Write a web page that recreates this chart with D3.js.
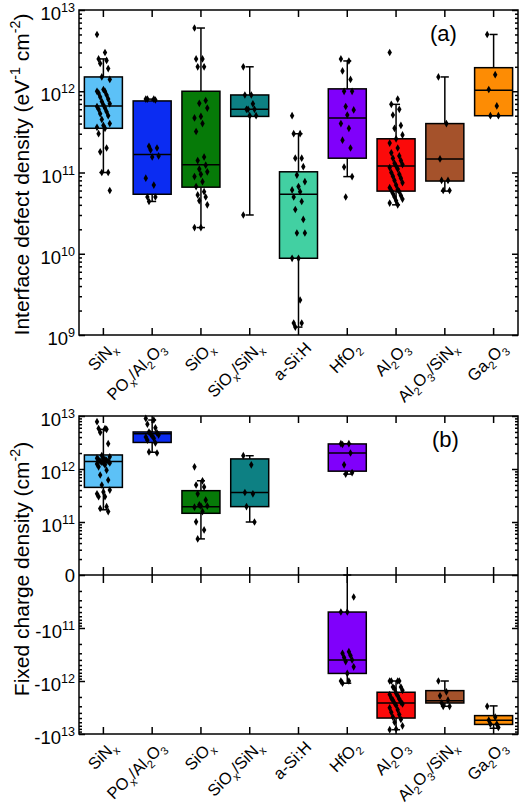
<!DOCTYPE html>
<html><head><meta charset="utf-8">
<script src="https://cdn.jsdelivr.net/npm/d3@7"></script>
<style>
body{margin:0;background:#fff;}
text{font-family:"Liberation Sans",Arial,sans-serif;fill:#000;}
</style>
</head><body>
<svg id="c" width="520" height="806"></svg>
<script>
// ---------- DATA ----------
const categories = ["SiNx","POx/Al2O3","SiOx","SiOx/SiNx","a-Si:H","HfO2","Al2O3","Al2O3/SiNx","Ga2O3"];
const catLabels  = ["SiN_x","PO_x/Al_2O_3","SiO_x","SiO_x/SiN_x","a-Si:H","HfO_2","Al_2O_3","Al_2O_3/SiN_x","Ga_2O_3"];
const colors     = ["#5cc1f7","#0b2cf2","#067a08","#0d8083","#42d0a2","#8000fb","#fb0a0a","#a5522b","#fd8c04"];

// Panel (a): interface defect density box statistics
const loA  = [1e11, 4.4e10, 2.1e10, 3e10, 1.25e9, 8.9e10, 4e10, 5.9e10, 5e11];
const q1A  = [3.5e11, 5.4e10, 6.6e10, 4.9e11, 8.8e9, 1.5e11, 5.9e10, 7.85e10, 5e11];
const medA = [6.6e11, 1.67e11, 1.25e11, 6e11, 5.4e10, 4.7e11, 1.2e11, 1.47e11, 1.03e12];
const q3A  = [1.5e12, 7.6e11, 1e12, 9e11, 1.02e11, 1.07e12, 2.6e11, 4e11, 1.95e12];
const hiA  = [2.5e12, 8e11, 6e12, 2e12, 3e11, 2.36e12, 6.9e11, 1.5e12, 5e12];

const ptsA_SiNx = [5e12,3e12,2.5e12,2.4e12,2.2e12,1.9e12,1.5e12,1.4e12,1.05e12,1e12,1e12,9.5e11,9e11,8.5e11,8e11,7.5e11,7e11,6.8e11,6.5e11,6.2e11,6e11,5.6e11,5.3e11,5e11,4.5e11,4e11,3.8e11,3.6e11,3.5e11,3e11,2e11,1.8e11,1e11,1e11,6e10];
const ptsA_PO   = [8e11,8e11,8e11,7.8e11,2.1e11,2e11,1.9e11,1.6e11,1.55e11,8.5e10,7e10,5e10,5e10,4.4e10];
const ptsA_SiOx = [6e12,2.5e12,2.5e12,2e12,2e12,7.7e11,7.1e11,6.2e11,4.9e11,4.7e11,4e11,3.2e11,1.55e11,1.4e11,1.23e11,1.1e11,1.02e11,9.5e10,8.9e10,7.7e10,6.7e10,5.8e10,5.3e10,5e10,4.5e10,4e10,2.1e10,2.1e10];
const ptsA_SiOxSiNx = [2e12,9e11,9e11,7e11,6e11,6e11,6e11,5e11,5e11,3e10];
const ptsA_aSi  = [5e11,3e11,3e11,1.5e11,1.5e11,1.18e11,9.3e10,7.7e10,6.7e10,6.1e10,5.8e10,5e10,4.4e10,3.5e10,2.65e10,1.8e10,1.8e10,8.8e9,8.8e9,2.7e9,1.4e9,1.4e9,1.25e9];
const ptsA_HfO2 = [2.5e12,2.36e12,1.78e12,1.4e12,1e12,1e12,6.5e11,5.9e11,5.1e11,4e11,3.5e11,2.5e11,2e11,1.17e11,8.9e10,5e10];
const ptsA_Al2O3 = [3e12,8e11,6.9e11,6e11,5.1e11,3.8e11,3.5e11,2.9e11,2.6e11,2.3e11,2e11,1.75e11,1.6e11,1.5e11,1.4e11,1.3e11,1.25e11,1.2e11,1.15e11,1.1e11,1e11,9.5e10,9e10,8.5e10,8e10,7.5e10,7e10,6.5e10,6.2e10,6e10,5.8e10,5.5e10,5.2e10,5e10,4.7e10,4.5e10,4.2e10,4e10];
const ptsA_AlSiN = [1.5e12,4e11,1.47e11,8e10,8e10,6e10,6e10];
const ptsA_Ga2O3 = [5e12,1.6e12,1.05e12,6.6e11,5e11,5e11];
const pointsA = [ptsA_SiNx,ptsA_PO,ptsA_SiOx,ptsA_SiOxSiNx,ptsA_aSi,ptsA_HfO2,ptsA_Al2O3,ptsA_AlSiN,ptsA_Ga2O3];

// Panel (b): fixed charge density box statistics (one row per box)
const boxCatB = ["SiNx","POx/Al2O3","SiOx","SiOx/SiNx","HfO2","HfO2","Al2O3","Al2O3/SiNx","Ga2O3"];
const loB  = [1.7e11, 2.07e12, 4.8e10, 1e11, 8e11, -1.1e12, -8.3e12, -3e12, -7.8e12];
const q1B  = [4.5e11, 3.17e12, 1.46e11, 1.95e11, 9.1e11, -7.2e11, -5e12, -2.6e12, -6.6e12];
const medB = [1.38e12, 4.6e12, 1.95e11, 3.6e11, 2e12, -4e11, -2.6e12, -2.35e12, -5.5e12];
const q3B  = [1.84e12, 5e12, 3.9e11, 1.55e12, 2.97e12, -5e10, -1.63e12, -1.52e12, -4.5e12];
const hiB  = [5.6e12, 8.4e12, 6e11, 1.78e12, 3e12, -1e10, -1e12, -1e12, -2.95e12];

const ptsB_SiNx = [7.8e12,5.8e12,5.8e12,5.6e12,4.9e12,3e12,1.8e12,1.7e12,1.6e12,1.6e12,1.5e12,1.5e12,1.45e12,1.4e12,1.4e12,1.35e12,1.3e12,1.3e12,1.25e12,1.2e12,1.1e12,9.5e11,7.7e11,6.2e11,5e11,4e11,3.7e11,3.4e11,3e11,3e11,1.94e11,1.8e11,1.57e11];
const ptsB_PO   = [9e12,8.4e12,7e12,6e12,5e12,4.8e12,4.6e12,4.4e12,4.2e12,4e12,3.8e12,3.5e12,3.1e12,2.1e12,2e12];
const ptsB_SiOx = [1.1e12,6e11,5e11,4.6e11,3.4e11,2.6e11,2.1e11,2e11,2e11,1.9e11,1.57e11,1.01e11,7.1e10,4.8e10];
const ptsB_SiOxSiNx = [1.78e12,1.2e12,3.6e11,3.4e11,1.95e11,1e11];
const ptsB_aSi  = [];
const ptsB_HfO2 = [3e12,3e12,2.9e12,2e12,1.2e12,8.5e11,8e11,-2.6e10,-5e10,-5e10,-2.8e11,-3e11,-3.3e11,-3.6e11,-4e11,-4.3e11,-5.4e11,-7.2e11,-1e12,-1e12,-1.1e12];
const ptsB_Al2O3 = [-1e12,-1e12,-1e12,-1e12,-1.3e12,-1.3e12,-1.4e12,-1.5e12,-1.7e12,-1.8e12,-1.9e12,-2.1e12,-2.2e12,-2.3e12,-2.5e12,-2.6e12,-2.7e12,-2.9e12,-3.2e12,-3.5e12,-3.9e12,-4.3e12,-4.8e12,-5.3e12,-6e12,-7e12,-8e12,-8.3e12];
const ptsB_AlSiN = [-1e12,-1.6e12,-1.9e12,-2.3e12,-2.6e12,-3e12,-3e12];
const ptsB_Ga2O3 = [-3e12,-4.8e12,-5.5e12,-6.5e12,-6.5e12,-7.5e12];
const pointsB = [ptsB_SiNx,ptsB_PO,ptsB_SiOx,ptsB_SiOxSiNx,ptsB_aSi,ptsB_HfO2,ptsB_Al2O3,ptsB_AlSiN,ptsB_Ga2O3];

const ticksA = [1e9,1e10,1e11,1e12,1e13];
const tickLabelsA = ["10^9","10^10","10^11","10^12","10^13"];
const ticksB = [1e13,1e12,1e11,0,-1e11,-1e12,-1e13];
const tickLabelsB = ["10^13","10^12","10^11","0","-10^11","-10^12","-10^13"];

// ---------- LAYOUT ----------
const svg = d3.select("#c");
const L = 79, R = 518;
const A_TOP = 10, A_BOT = 335;
const B_TOP = 416, B_ZERO = 575, B_BOT = 734;
const BOXW = 38, CAPW = 8;
const SW = 1.5;

const x = d3.scaleBand().domain(categories).range([L, R]);
const cx = c => x(c) + x.bandwidth() / 2;

const yA = d3.scaleLog().domain([1e9, 1e13]).range([A_BOT, A_TOP]);
const yPos = d3.scaleLog().domain([1e10, 1e13]).range([B_ZERO, B_TOP]);
const yNeg = d3.scaleLog().domain([1e10, 1e13]).range([B_ZERO, B_BOT]);
const yB = v => v >= 1e10 ? yPos(v) : (v <= -1e10 ? yNeg(-v) : B_ZERO);

function rich(sel, str, size) {
  const parts = [];
  let buf = "", i = 0;
  while (i < str.length) {
    const ch = str[i];
    if (ch === "_") { if (buf) parts.push([buf, "n"]); buf = ""; parts.push([str[i + 1], "sub"]); i += 2; }
    else if (ch === "^") {
      if (buf) parts.push([buf, "n"]); buf = "";
      let j = i + 1, s = "";
      while (j < str.length && str[j] !== " " && str[j] !== ")") { s += str[j]; j++; }
      parts.push([s, "sup"]); i = j;
    } else { buf += ch; i++; }
  }
  if (buf) parts.push([buf, "n"]);
  let shift = 0;
  parts.forEach(([t, k]) => {
    const target = k === "sub" ? size * 0.28 : k === "sup" ? -size * 0.42 : 0;
    const ts = sel.append("tspan").style("font-size", (k === "n" ? size : size * 0.68) + "px").text(t);
    if (target - shift !== 0) ts.attr("dy", (target - shift).toFixed(2));
    shift = target;
  });
}

const jitter = i => (((i * 5) % 9) - 4) * 1.6;

function drawBox(g, c, col, lo, q1, med, q3, hi, y) {
  const xc = cx(c);
  const yq1 = y(q1), yq3 = y(q3);
  const top = Math.min(yq1, yq3), bot = Math.max(yq1, yq3);
  const yhi = y(hi), ylo = y(lo);
  g.append("line").attr("x1", xc).attr("x2", xc).attr("y1", yhi).attr("y2", top).attr("stroke", "#000").attr("stroke-width", SW);
  g.append("line").attr("x1", xc).attr("x2", xc).attr("y1", bot).attr("y2", ylo).attr("stroke", "#000").attr("stroke-width", SW);
  [yhi, ylo].forEach(yy => g.append("line").attr("x1", xc - CAPW / 2).attr("x2", xc + CAPW / 2).attr("y1", yy).attr("y2", yy).attr("stroke", "#000").attr("stroke-width", SW));
  g.append("rect").attr("x", xc - BOXW / 2).attr("width", BOXW).attr("y", top).attr("height", bot - top)
    .attr("fill", col).attr("stroke", "#000").attr("stroke-width", SW);
  g.append("line").attr("x1", xc - BOXW / 2).attr("x2", xc + BOXW / 2).attr("y1", y(med)).attr("y2", y(med)).attr("stroke", "#000").attr("stroke-width", SW);
}

function drawPoints(g, pts, y) {
  const sym = d3.symbol().type(d3.symbolDiamond).size(17);
  pts.forEach((arr, ci) => {
    const xc = cx(categories[ci]);
    arr.forEach((v, i) => {
      g.append("path").attr("d", sym()).attr("fill", "#000")
        .attr("transform", `translate(${(xc + jitter(i)).toFixed(1)},${y(v).toFixed(1)})`);
    });
  });
}

function logMinors(lo, hi) {
  const out = [];
  for (let e = lo; e < hi; e++) for (let m = 2; m <= 9; m++) out.push(m * Math.pow(10, e));
  return out;
}

function styleAxis(g) {
  g.select(".domain").remove();
  g.selectAll("line").attr("stroke", "#000").attr("stroke-width", SW);
  g.selectAll("text").remove();
}

// ---------- PANEL (a) ----------
const gA = svg.append("g");
categories.forEach((c, i) => drawBox(gA, c, colors[i], loA[i], q1A[i], medA[i], q3A[i], hiA[i], yA));
drawPoints(gA, pointsA, yA);

const minorsA = logMinors(9, 13);
gA.append("g").attr("transform", `translate(${L},0)`).call(d3.axisLeft(yA).tickValues(ticksA).tickSize(-6).tickFormat("")).call(styleAxis);
gA.append("g").attr("transform", `translate(${L},0)`).call(d3.axisLeft(yA).tickValues(minorsA).tickSize(-3).tickFormat("")).call(styleAxis);
gA.append("g").attr("transform", `translate(${R},0)`).call(d3.axisRight(yA).tickValues(ticksA).tickSize(-6).tickFormat("")).call(styleAxis);
gA.append("g").attr("transform", `translate(${R},0)`).call(d3.axisRight(yA).tickValues(minorsA).tickSize(-3).tickFormat("")).call(styleAxis);
gA.append("g").attr("transform", `translate(0,${A_TOP})`).call(d3.axisTop(x).tickSize(-7).tickSizeOuter(0).tickFormat("")).call(styleAxis);
gA.append("g").attr("transform", `translate(0,${A_BOT})`).call(d3.axisBottom(x).tickSize(-7).tickSizeOuter(0).tickFormat("")).call(styleAxis);
gA.append("rect").attr("x", L).attr("y", A_TOP).attr("width", R - L).attr("height", A_BOT - A_TOP)
  .attr("fill", "none").attr("stroke", "#000").attr("stroke-width", SW);

ticksA.forEach((t, i) => {
  const tx = gA.append("text").attr("x", 75).attr("y", yA(t) + 10).attr("text-anchor", "end");
  rich(tx, tickLabelsA[i], 18.5);
});

// ---------- PANEL (b) ----------
const gB = svg.append("g");
boxCatB.forEach((c, i) => drawBox(gB, c, colors[categories.indexOf(c)], loB[i], q1B[i], medB[i], q3B[i], hiB[i], yB));
drawPoints(gB, pointsB, yB);

const minorsPos = logMinors(10, 13);
const minorsNeg = minorsPos.map(v => -v);
const yBpx = d3.scaleLinear().domain([B_BOT, B_TOP]).range([B_BOT, B_TOP]);
const majorPx = ticksB.map(yB);
const minorPx = minorsPos.map(yB).concat(minorsNeg.map(yB));
gB.append("g").attr("transform", `translate(${L},0)`).call(d3.axisLeft(yBpx).tickValues(majorPx).tickSize(-6).tickFormat("")).call(styleAxis);
gB.append("g").attr("transform", `translate(${L},0)`).call(d3.axisLeft(yBpx).tickValues(minorPx).tickSize(-3).tickFormat("")).call(styleAxis);
gB.append("g").attr("transform", `translate(${R},0)`).call(d3.axisRight(yBpx).tickValues(majorPx).tickSize(-6).tickFormat("")).call(styleAxis);
gB.append("g").attr("transform", `translate(${R},0)`).call(d3.axisRight(yBpx).tickValues(minorPx).tickSize(-3).tickFormat("")).call(styleAxis);
gB.append("g").attr("transform", `translate(0,${B_TOP})`).call(d3.axisTop(x).tickSize(-7).tickSizeOuter(0).tickFormat("")).call(styleAxis);
gB.append("g").attr("transform", `translate(0,${B_BOT})`).call(d3.axisBottom(x).tickSize(-7).tickSizeOuter(0).tickFormat("")).call(styleAxis);
gB.append("line").attr("x1", L).attr("x2", R).attr("y1", B_ZERO).attr("y2", B_ZERO).attr("stroke", "#000").attr("stroke-width", SW);
gB.append("g").attr("transform", `translate(0,${B_ZERO})`).call(d3.axisBottom(x).tickSize(8).tickSizeOuter(0).tickFormat("")).call(styleAxis);
gB.append("g").attr("transform", `translate(0,${B_ZERO})`).call(d3.axisTop(x).tickSize(8).tickSizeOuter(0).tickFormat("")).call(styleAxis);
gB.append("rect").attr("x", L).attr("y", B_TOP).attr("width", R - L).attr("height", B_BOT - B_TOP)
  .attr("fill", "none").attr("stroke", "#000").attr("stroke-width", SW);

ticksB.forEach((t, i) => {
  const lab = tickLabelsB[i];
  const tx = gB.append("text").attr("x", 75).attr("y", yB(t) + (lab === "0" ? 7 : 10)).attr("text-anchor", "end");
  rich(tx, lab, 18.5);
});

// ---------- CATEGORY LABELS (rotated 45°) ----------
[A_BOT, B_BOT].forEach(ay => {
  categories.forEach((c, i) => {
    const t = svg.append("text").attr("text-anchor", "end")
      .attr("transform", `translate(${(cx(c) + 14).toFixed(1)},${ay + 14}) rotate(-45)`);
    rich(t, catLabels[i], 16.5);
  });
});

// ---------- TITLES ----------
const tA = svg.append("text").attr("text-anchor", "middle")
  .attr("transform", `translate(29,${(A_TOP + A_BOT) / 2 + 2}) rotate(-90)`);
rich(tA, "Interface defect density (eV^-1 cm^-2)", 21);
const tB = svg.append("text").attr("text-anchor", "middle")
  .attr("transform", `translate(29,${(B_TOP + B_BOT) / 2 - 6}) rotate(-90)`);
rich(tB, "Fixed charge density (cm^-2)", 21);

svg.append("text").attr("x", 430).attr("y", 41).style("font-size", "22px").text("(a)");
svg.append("text").attr("x", 432).attr("y", 447).style("font-size", "22px").text("(b)");
</script>
</body></html>
